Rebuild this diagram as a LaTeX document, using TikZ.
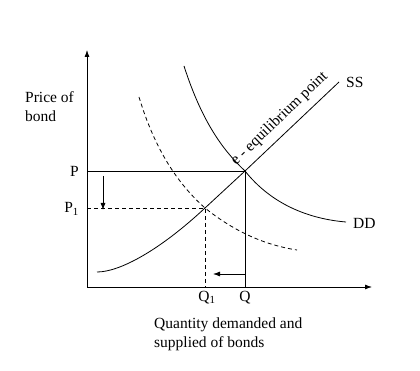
\documentclass[tikz,border=0pt]{standalone}
\usepackage{fontspec}
\setmainfont{Liberation Serif}
\usetikzlibrary{arrows.meta}
\tikzset{
    axisLine/.style={
        -{Latex[length=7pt,width=5pt]},
        line width=0.8pt
    },
    curveLine/.style={
        line width=0.8pt
    },
    guideDashed/.style={
        line width=0.8pt,
        dash pattern=on 4pt off 3pt
    },
    shiftArrow/.style={
        -{Latex[length=7pt,width=5pt]},
        line width=0.8pt
    },
    labelText/.style={
        font=\fontsize{15.5}{19}\selectfont,
        inner sep=1pt
    }
}

\begin{document}
\begin{tikzpicture}[x=1pt,y=-1pt]
    \useasboundingbox (0,0) rectangle (420,371);

    % axes
    \coordinate (O) at (87,287);
    \coordinate (ytop) at (87,50);
    \coordinate (xend) at (372,287);
    \draw[axisLine] (O) -- (ytop);
    \draw[axisLine] (O) -- (xend);

    % key points
    \coordinate (e) at (245,171);
    \coordinate (e1) at (205,208);
    \coordinate (pAxis) at (87,171);
    \coordinate (p1Axis) at (87,208);
    \coordinate (qAxis) at (245,287);
    \coordinate (q1Axis) at (205,287);

    % supply and demand
    \draw[curveLine] (97,272) .. controls (120,272) and (160,250) .. (e1) -- (e) -- (339,82) coordinate (ssEnd);
    \draw[curveLine] (184,66) .. controls (203,125) and (225,152) .. (e) .. controls (272,205) and (310,219) .. (346,222) coordinate (ddEnd);
    \draw[guideDashed] (139,97) .. controls (155,150) and (178,184) .. (e1) .. controls (235,232) and (265,245) .. (297,250);

    % guide lines
    \draw[curveLine] (pAxis) -- (e) -- (qAxis);
    \draw[guideDashed] (p1Axis) -- (e1) -- (q1Axis);

    % shifts
    \coordinate (downTop) at (103,176);
    \coordinate (downEnd) at (103,210);
    \coordinate (leftStart) at (245,274);
    \coordinate (leftEnd) at (213,274);
    \draw[shiftArrow] (downTop) -- (downEnd);
    \draw[shiftArrow] (leftStart) -- (leftEnd);

    % labels
    \node[labelText,align=left,anchor=west] (price) at (24,107) {Price of\\bond};
    \node[labelText,anchor=east] (pLabel) at (80,171) {P};
    \node[labelText,anchor=east] (p1Label) at (80,209) {P\textsubscript{1}};
    \node[labelText,anchor=north] (qLabel) at (245,290) {Q};
    \node[labelText,anchor=north] (q1Label) at (207,290) {Q\textsubscript{1}};
    \node[labelText,align=left,anchor=north west] (quantity) at (153,317) {Quantity demanded and\\supplied of bonds};
    \node[labelText,anchor=west] (ssLabel) at (345,82) {SS};
    \node[labelText,anchor=west] (ddLabel) at (352,223) {DD};
    \node[labelText,anchor=base west,rotate=44,inner sep=0pt] (eqLabel) at (236,166) {e - equilibrium point};
\end{tikzpicture}
\end{document}
